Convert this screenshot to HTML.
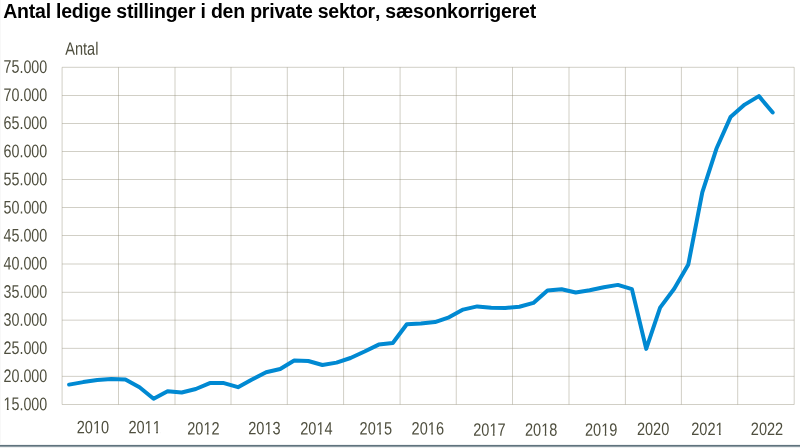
<!DOCTYPE html><html><head><meta charset="utf-8"><title>Antal ledige stillinger</title><style>html,body{margin:0;padding:0;background:#fff;}body{width:800px;height:448px;overflow:hidden;position:relative;}svg{position:absolute;left:0;top:0;display:block;will-change:transform;}text{font-family:"Liberation Sans",sans-serif;font-kerning:none;}</style></head><body>
<svg width="800" height="448" viewBox="0 0 800 448">
<text transform="translate(3.2 17.6) scale(1 1.0)" font-size="19.5" letter-spacing="-0.22" font-weight="bold" fill="#000">Antal ledige stillinger i den private sektor, sæsonkorrigeret</text>
<path d="M62.10 67.30H794.20 M62.10 95.50H794.20 M62.10 123.50H794.20 M62.10 151.50H794.20 M62.10 179.50H794.20 M62.10 207.50H794.20 M62.10 235.50H794.20 M62.10 264.00H794.20 M62.10 292.30H794.20 M62.10 320.15H794.20 M62.10 348.35H794.20 M62.10 376.35H794.20 M62.10 404.50H794.20" stroke="rgba(140,136,112,0.40)" stroke-width="1.0" fill="none"/>
<path d="M62.10 67.30V404.50 M118.50 67.30V404.50 M175.00 67.30V404.50 M231.00 67.30V404.50 M287.30 67.30V404.50 M343.60 67.30V404.50 M400.10 67.30V404.50 M456.25 67.30V404.50 M512.50 67.30V404.50 M569.00 67.30V404.50 M625.40 67.30V404.50 M681.40 67.30V404.50 M737.70 67.30V404.50 M794.20 67.30V404.50" stroke="rgba(140,136,112,0.40)" stroke-width="1.0" fill="none"/>
<g transform="translate(47.30 72.90) skewY(0.05) scale(0.7870 1)"><text x="-55.61" y="0" font-size="18.18" fill="#4f4f3f">75.000</text></g>
<g transform="translate(47.30 101.00) skewY(0.05) scale(0.7870 1)"><text x="-55.61" y="0" font-size="18.18" fill="#4f4f3f">70.000</text></g>
<g transform="translate(47.30 129.11) skewY(0.05) scale(0.7870 1)"><text x="-55.61" y="0" font-size="18.18" fill="#4f4f3f">65.000</text></g>
<g transform="translate(47.30 157.21) skewY(0.05) scale(0.7870 1)"><text x="-55.61" y="0" font-size="18.18" fill="#4f4f3f">60.000</text></g>
<g transform="translate(47.30 185.32) skewY(0.05) scale(0.7870 1)"><text x="-55.61" y="0" font-size="18.18" fill="#4f4f3f">55.000</text></g>
<g transform="translate(47.30 213.42) skewY(0.05) scale(0.7870 1)"><text x="-55.61" y="0" font-size="18.18" fill="#4f4f3f">50.000</text></g>
<g transform="translate(47.30 241.53) skewY(0.05) scale(0.7870 1)"><text x="-55.61" y="0" font-size="18.18" fill="#4f4f3f">45.000</text></g>
<g transform="translate(47.30 269.63) skewY(0.05) scale(0.7870 1)"><text x="-55.61" y="0" font-size="18.18" fill="#4f4f3f">40.000</text></g>
<g transform="translate(47.30 297.73) skewY(0.05) scale(0.7870 1)"><text x="-55.61" y="0" font-size="18.18" fill="#4f4f3f">35.000</text></g>
<g transform="translate(47.30 325.84) skewY(0.05) scale(0.7870 1)"><text x="-55.61" y="0" font-size="18.18" fill="#4f4f3f">30.000</text></g>
<g transform="translate(47.30 353.94) skewY(0.05) scale(0.7870 1)"><text x="-55.61" y="0" font-size="18.18" fill="#4f4f3f">25.000</text></g>
<g transform="translate(47.30 382.05) skewY(0.05) scale(0.7870 1)"><text x="-55.61" y="0" font-size="18.18" fill="#4f4f3f">20.000</text></g>
<g transform="translate(47.30 410.15) skewY(0.05) scale(0.7870 1)"><text x="-55.61" y="0" font-size="18.18" fill="#4f4f3f">15.000</text><rect x="-55.34" y="-2.6" width="3.98" height="3.2" fill="#fff"/><rect x="-49.10" y="-2.6" width="3.48" height="3.2" fill="#fff"/></g>
<g transform="translate(65.20 54.80) skewY(0.05) scale(0.8100 1)"><text x="0.00" y="0" font-size="18.00" fill="#4f4f3f">Antal</text></g>
<g transform="translate(76.70 433.30) skewY(0.05) scale(0.8100 1)"><text x="0.00" y="0" font-size="18.00" fill="#4f4f3f">2010</text><rect x="20.29" y="-2.6" width="3.94" height="3.2" fill="#fff"/><rect x="26.46" y="-2.6" width="3.45" height="3.2" fill="#fff"/></g>
<g transform="translate(128.40 433.30) skewY(0.05) scale(0.8100 1)"><text x="0.00" y="0" font-size="18.00" fill="#4f4f3f">2011</text><rect x="20.29" y="-2.6" width="3.94" height="3.2" fill="#fff"/><rect x="26.46" y="-2.6" width="3.45" height="3.2" fill="#fff"/><rect x="30.30" y="-2.6" width="3.94" height="3.2" fill="#fff"/><rect x="36.47" y="-2.6" width="3.45" height="3.2" fill="#fff"/></g>
<g transform="translate(187.20 434.50) skewY(0.05) scale(0.8100 1)"><text x="0.00" y="0" font-size="18.00" fill="#4f4f3f">2012</text><rect x="20.29" y="-2.6" width="3.94" height="3.2" fill="#fff"/><rect x="26.46" y="-2.6" width="3.45" height="3.2" fill="#fff"/></g>
<g transform="translate(248.20 434.30) skewY(0.05) scale(0.8100 1)"><text x="0.00" y="0" font-size="18.00" fill="#4f4f3f">2013</text><rect x="20.29" y="-2.6" width="3.94" height="3.2" fill="#fff"/><rect x="26.46" y="-2.6" width="3.45" height="3.2" fill="#fff"/></g>
<g transform="translate(300.20 434.50) skewY(0.05) scale(0.8100 1)"><text x="0.00" y="0" font-size="18.00" fill="#4f4f3f">2014</text><rect x="20.29" y="-2.6" width="3.94" height="3.2" fill="#fff"/><rect x="26.46" y="-2.6" width="3.45" height="3.2" fill="#fff"/></g>
<g transform="translate(359.60 434.50) skewY(0.05) scale(0.8100 1)"><text x="0.00" y="0" font-size="18.00" fill="#4f4f3f">2015</text><rect x="20.29" y="-2.6" width="3.94" height="3.2" fill="#fff"/><rect x="26.46" y="-2.6" width="3.45" height="3.2" fill="#fff"/></g>
<g transform="translate(411.60 434.50) skewY(0.05) scale(0.8100 1)"><text x="0.00" y="0" font-size="18.00" fill="#4f4f3f">2016</text><rect x="20.29" y="-2.6" width="3.94" height="3.2" fill="#fff"/><rect x="26.46" y="-2.6" width="3.45" height="3.2" fill="#fff"/></g>
<g transform="translate(473.20 435.70) skewY(0.05) scale(0.8100 1)"><text x="0.00" y="0" font-size="18.00" fill="#4f4f3f">2017</text><rect x="20.29" y="-2.6" width="3.94" height="3.2" fill="#fff"/><rect x="26.46" y="-2.6" width="3.45" height="3.2" fill="#fff"/></g>
<g transform="translate(525.00 435.70) skewY(0.05) scale(0.8100 1)"><text x="0.00" y="0" font-size="18.00" fill="#4f4f3f">2018</text><rect x="20.29" y="-2.6" width="3.94" height="3.2" fill="#fff"/><rect x="26.46" y="-2.6" width="3.45" height="3.2" fill="#fff"/></g>
<g transform="translate(585.00 435.70) skewY(0.05) scale(0.8100 1)"><text x="0.00" y="0" font-size="18.00" fill="#4f4f3f">2019</text><rect x="20.29" y="-2.6" width="3.94" height="3.2" fill="#fff"/><rect x="26.46" y="-2.6" width="3.45" height="3.2" fill="#fff"/></g>
<g transform="translate(636.90 434.90) skewY(0.05) scale(0.8100 1)"><text x="0.00" y="0" font-size="18.00" fill="#4f4f3f">2020</text></g>
<g transform="translate(691.20 434.90) skewY(0.05) scale(0.8100 1)"><text x="0.00" y="0" font-size="18.00" fill="#4f4f3f">2021</text><rect x="30.30" y="-2.6" width="3.94" height="3.2" fill="#fff"/><rect x="36.47" y="-2.6" width="3.45" height="3.2" fill="#fff"/></g>
<g transform="translate(750.80 434.90) skewY(0.05) scale(0.8100 1)"><text x="0.00" y="0" font-size="18.00" fill="#4f4f3f">2022</text></g>
<path d="M69.1 384.6 L83.2 382.1 L97.3 380.0 L111.3 378.9 L125.4 379.4 L139.5 387.3 L153.6 398.8 L167.6 391.3 L181.7 392.5 L195.8 389.0 L209.8 383.1 L223.9 383.1 L238.0 387.2 L252.0 379.5 L266.1 372.3 L280.2 369.0 L294.2 360.5 L308.3 361.0 L322.4 365.0 L336.5 362.6 L350.5 358.0 L364.6 351.5 L378.7 344.6 L392.8 343.0 L406.8 324.3 L420.9 323.6 L435.0 322.1 L449.0 317.3 L463.1 309.6 L477.2 306.4 L491.2 307.8 L505.3 308.0 L519.4 306.7 L533.4 302.9 L547.5 290.6 L561.6 289.3 L575.7 292.5 L589.7 290.3 L603.8 287.3 L617.9 284.9 L631.9 289.1 L646.2 348.9 L660.1 307.6 L674.2 288.8 L688.3 264.4 L702.3 192.3 L716.4 148.8 L730.5 117.1 L744.7 104.6 L758.9 96.1 L772.7 112.5" stroke="#0089d2" stroke-width="4.0" fill="none" stroke-linejoin="round" stroke-linecap="round"/>
<rect x="0" y="444" width="800" height="1" fill="#f0f2f3"/>
<rect x="0" y="445" width="800" height="1" fill="#5f737d"/>
<rect x="0" y="446" width="800" height="1" fill="#8e9ca3"/>
<rect x="0" y="447" width="800" height="1" fill="#eceff0"/>
<rect x="0" y="0" width="1" height="444" fill="#f8f8f8"/>
</svg></body></html>
